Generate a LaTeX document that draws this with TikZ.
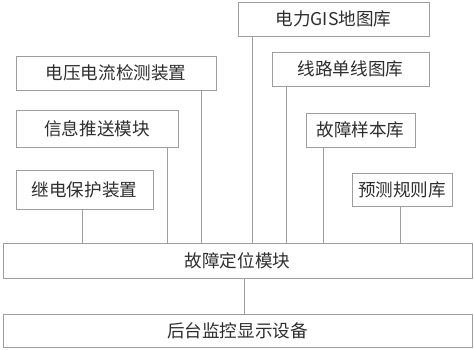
\documentclass[tikz,border=0pt]{standalone}
\usepackage{fontspec}
\newfontfamily\cjk{Noto Sans CJK SC}
\begin{document}
\begin{tikzpicture}[x=1pt,y=-1pt,
  box/.style={draw=black!38,line width=0.9pt,inner sep=0pt,text=black!82,
    font=\cjk\fontsize{17.6}{20}\selectfont},
  link/.style={draw=black!38,line width=0.9pt}]
\useasboundingbox[fill=white] (0,0) rectangle (474,350);
\node[box,minimum width=191,minimum height=34] (gis) at (333.5,19) {电力GIS地图库};
\node[box,minimum width=157,minimum height=34] (sld) at (350.5,69) {线路单线图库};
\node[box,minimum width=109,minimum height=34] (sample) at (360.5,130) {故障样本库};
\node[box,minimum width=100,minimum height=33] (rule) at (402,189.5) {预测规则库};
\node[box,minimum width=200,minimum height=34] (vc) at (116,73) {电压电流检测装置};
\node[box,minimum width=162,minimum height=37] (info) at (97,128.5) {信息推送模块};
\node[box,minimum width=137,minimum height=39] (relay) at (84.5,189.5) {继电保护装置};
\node[box,minimum width=469,minimum height=35] (loc) at (237.5,260.5) {故障定位模块};
\node[box,minimum width=469,minimum height=33] (disp) at (237.5,330.5) {后台监控显示设备};
\draw[link] (82,0 |- relay.south) -- (82,0 |- loc.north);
\draw[link] (167,0 |- info.south) -- (167,0 |- loc.north);
\draw[link] (201,0 |- vc.south) -- (201,0 |- loc.north);
\draw[link] (252,0 |- gis.south) -- (252,0 |- loc.north);
\draw[link] (286,0 |- sld.south) -- (286,0 |- loc.north);
\draw[link] (323,0 |- sample.south) -- (323,0 |- loc.north);
\draw[link] (400,0 |- rule.south) -- (400,0 |- loc.north);
\draw[link] (244,0 |- loc.south) -- (244,0 |- disp.north);
\end{tikzpicture}
\end{document}
